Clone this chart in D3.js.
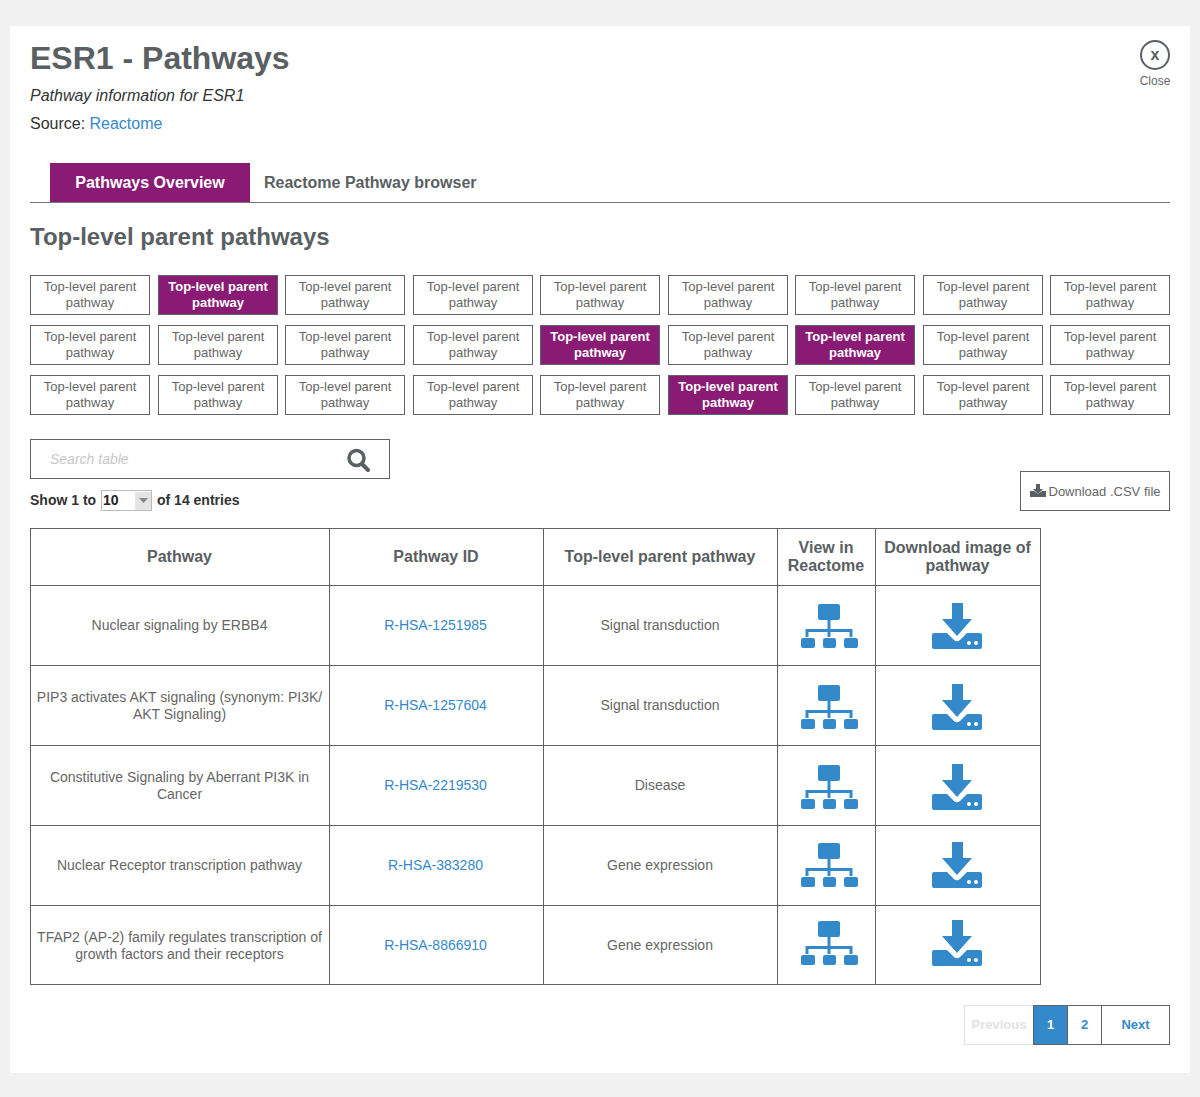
<!DOCTYPE html>
<html>
<head>
<meta charset="utf-8">
<script src="https://cdn.jsdelivr.net/npm/d3@7"></script>
<style>
  html, body { margin: 0; padding: 0; background: #f1f1f1; }
  svg { display: block; }
  text { font-family: "Liberation Sans", Arial, sans-serif; }
</style>
</head>
<body>
<div id="graf"></div>
<script>
// values
const tileLabel = ["Top-level parent", "pathway"]
const tileCols = d3.range(9)
const tileRows = d3.range(3)
const tileActive = ["0-1", "1-4", "1-6", "2-5"]

const headerLines = [["Pathway"], ["Pathway ID"], ["Top-level parent pathway"], ["View in", "Reactome"], ["Download image of", "pathway"]]
const pathways = [
  ["Nuclear signaling by ERBB4"],
  ["PIP3 activates AKT signaling (synonym: PI3K/", "AKT Signaling)"],
  ["Constitutive Signaling by Aberrant PI3K in", "Cancer"],
  ["Nuclear Receptor transcription pathway"],
  ["TFAP2 (AP-2) family regulates transcription of", "growth factors and their receptors"]
]
const pathwayIds = ["R-HSA-1251985", "R-HSA-1257604", "R-HSA-2219530", "R-HSA-383280", "R-HSA-8866910"]
const parents = ["Signal transduction", "Signal transduction", "Disease", "Gene expression", "Gene expression"]
const pageLabels = ["Previous", "1", "2", "Next"]

// layout
const width = 1200, height = 1097
const purple = "#8a1b74", blue = "#3489ca", ink = "#5a6062", line = "#5f6365"

const svg = d3.select("#graf").append("svg")
    .attr("width", width).attr("height", height)
    .attr("viewBox", [0, 0, width, height])

const label = (g, str, x, y, size, fill, opts = {}) => g.append("text")
    .attr("x", x).attr("y", y)
    .attr("font-size", size)
    .attr("fill", fill)
    .attr("font-weight", opts.weight || "normal")
    .attr("font-style", opts.style || "normal")
    .attr("text-anchor", opts.anchor || "start")
    .text(str)

svg.append("rect").attr("x", 10).attr("y", 26).attr("width", 1180).attr("height", 1047).attr("fill", "#fff")

// header
label(svg, "ESR1 - Pathways", 30, 69, 32, ink, {weight: "bold"})
label(svg, "Pathway information for ESR1", 30, 101, 16, "#333", {style: "italic"})
label(svg, "Source:", 30, 129, 16, "#333")
label(svg, "Reactome", 89.5, 129, 16, blue)

svg.append("circle").attr("cx", 1155).attr("cy", 55).attr("r", 14).attr("fill", "none").attr("stroke", ink).attr("stroke-width", 2)
label(svg, "x", 1155, 60, 16, ink, {weight: "bold", anchor: "middle"})
label(svg, "Close", 1155, 85, 12, "#666", {anchor: "middle"})

// tabs
svg.append("rect").attr("x", 50).attr("y", 163).attr("width", 200).attr("height", 39).attr("fill", purple)
svg.append("line").attr("x1", 30).attr("x2", 1170).attr("y1", 202.5).attr("y2", 202.5).attr("stroke", "#777")
label(svg, "Pathways Overview", 150, 188, 16, "#fff", {weight: "bold", anchor: "middle"})
label(svg, "Reactome Pathway browser", 264, 188, 16, ink, {weight: "bold"})

label(svg, "Top-level parent pathways", 30, 245, 24, ink, {weight: "bold"})

// tile grid
const tileX = d3.scaleLinear().domain([0, 8]).range([30, 1050])
const tileY = d3.scaleLinear().domain([0, 2]).range([275, 375])
const tileW = 120, tileH = 40
const isActive = ([r, c]) => tileActive.includes(`${r}-${c}`)

const tiles = svg.append("g").selectAll("g")
  .data(d3.cross(tileRows, tileCols))
  .join("g")
    .attr("transform", ([r, c]) => `translate(${Math.round(tileX(c))},${tileY(r)})`)

tiles.append("rect")
    .attr("x", 0.5).attr("y", 0.5)
    .attr("width", tileW - 1).attr("height", tileH - 1)
    .attr("fill", d => isActive(d) ? purple : "#fff")
    .attr("stroke", line)

tileLabel.forEach((t, i) => {
  tiles.append("text")
      .attr("x", tileW / 2)
      .attr("y", 15.6 + i * 16)
      .attr("text-anchor", "middle")
      .attr("font-size", 13)
      .attr("font-weight", d => isActive(d) ? "bold" : "normal")
      .attr("fill", d => isActive(d) ? "#fff" : "#666")
      .text(t)
})

// search box
svg.append("rect").attr("x", 30.5).attr("y", 439.5).attr("width", 359).attr("height", 39).attr("fill", "#fff").attr("stroke", line)
label(svg, "Search table", 50, 464, 14, "#c8c8c8", {style: "italic"})
svg.append("circle").attr("cx", 356.5).attr("cy", 458).attr("r", 7.5).attr("fill", "none").attr("stroke", ink).attr("stroke-width", 3.5)
svg.append("line").attr("x1", 362).attr("y1", 464).attr("x2", 368).attr("y2", 470).attr("stroke", ink).attr("stroke-width", 4).attr("stroke-linecap", "round")

// entries select
label(svg, "Show 1 to", 30, 505, 14, "#333", {weight: "bold"})
svg.append("rect").attr("x", 101.5).attr("y", 490.5).attr("width", 50).attr("height", 20).attr("fill", "#fff").attr("stroke", "#bbb")
svg.append("rect").attr("x", 135).attr("y", 492).attr("width", 16).attr("height", 18).attr("fill", "#e4e4e4")
svg.append("path").attr("d", "M139 498h9l-4.5 5z").attr("fill", "#888")
label(svg, "10", 103, 505, 14, "#222", {weight: "bold"})
label(svg, "of 14 entries", 157, 505, 14, "#333", {weight: "bold"})

// download button
svg.append("rect").attr("x", 1020.5).attr("y", 471.5).attr("width", 149).attr("height", 39).attr("fill", "#fff").attr("stroke", line)
const smallIcon = svg.append("g").attr("transform", "translate(1038,494)").attr("fill", ink)
smallIcon.append("path").attr("d", "M-8 -3h4l4 3 4 -3h4v6h-16z")
smallIcon.append("path").attr("d", "M-2 -10h4v5h3l-5 5 -5 -5h3z")
label(svg, "Download .CSV file", 1048.5, 496, 13, "#666")

// table
const colEdges = [30, 329, 543, 777, 875, 1040]
const colCentre = i => (colEdges[i] + colEdges[i + 1]) / 2
const rowEdges = [528, 585, 665, 745, 825, 905, 984]
const iconNudge = [0, 1, 1, -1, -3]

const table = svg.append("g").attr("stroke", line).attr("shape-rendering", "crispEdges")
table.selectAll("line.h").data(rowEdges).join("line").attr("class", "h")
    .attr("x1", colEdges[0]).attr("x2", colEdges[5] + 1)
    .attr("y1", d => d + 0.5).attr("y2", d => d + 0.5)
table.selectAll("line.v").data(colEdges).join("line").attr("class", "v")
    .attr("y1", rowEdges[0]).attr("y2", rowEdges[6] + 1)
    .attr("x1", d => d + 0.5).attr("x2", d => d + 0.5)

const multi = (g, lines, x, cy, size, lh, fill, opts) => {
  lines.forEach((t, i) => {
    label(g, t, x, cy + (i - (lines.length - 1) / 2) * lh + size * 0.36, size, fill, opts)
  })
}

headerLines.forEach((lines, i) => {
  multi(svg, lines, colCentre(i), 556, 16, 18, ink, {weight: "bold", anchor: "middle"})
})

const sitemap = "M2 0h18a2 2 0 0 1 2 2v12a2 2 0 0 1 -2 2h-18a2 2 0 0 1 -2 -2v-12a2 2 0 0 1 2 -2z"
  + "M9.5 16h3v9h22v8h-3v-5h-19v5h-3v-5h-19v5h-3v-8h22z"
  + "M-15 34h10a2 2 0 0 1 2 2v6a2 2 0 0 1 -2 2h-10a2 2 0 0 1 -2 -2v-6a2 2 0 0 1 2 -2z"
  + "M7 34h9a2 2 0 0 1 2 2v6a2 2 0 0 1 -2 2h-9a2 2 0 0 1 -2 -2v-6a2 2 0 0 1 2 -2z"
  + "M28 34h10a2 2 0 0 1 2 2v6a2 2 0 0 1 -2 2h-10a2 2 0 0 1 -2 -2v-6a2 2 0 0 1 2 -2z"
const arrow = "M10 0h11v16h9l-15 17 -15 -17h10z"
const tray = "M-8 30h13l7 7a4 4 0 0 0 6 0l7 -7h13a2 2 0 0 1 2 2v12a2 2 0 0 1 -2 2h-46a2 2 0 0 1 -2 -2v-12a2 2 0 0 1 2 -2z"

pathways.forEach((lines, r) => {
  const cy = (rowEdges[r + 1] + rowEdges[r + 2]) / 2
  multi(svg, lines, colCentre(0), cy + (r === 4 ? 1 : 0), 14, 17, "#666", {anchor: "middle"})
  multi(svg, [pathwayIds[r]], colCentre(1) - 0.5, cy, 14, 17, blue, {anchor: "middle"})
  multi(svg, [parents[r]], colCentre(2), cy, 14, 17, "#666", {anchor: "middle"})
  const top = rowEdges[r + 1] + 19 + iconNudge[r]
  svg.append("path").attr("transform", `translate(818,${top})`).attr("d", sitemap).attr("fill", blue)
  const dl = svg.append("g").attr("transform", `translate(942,${top - 1})`).attr("fill", blue)
  dl.append("path").attr("d", tray)
  dl.append("path").attr("d", arrow)
  dl.append("circle").attr("cx", 27).attr("cy", 40).attr("r", 2).attr("fill", "#fff")
  dl.append("circle").attr("cx", 34).attr("cy", 40).attr("r", 2).attr("fill", "#fff")
})

// pagination
const pageEdges = [964, 1033, 1067, 1101, 1169]
svg.append("rect").attr("x", 964.5).attr("y", 1005.5).attr("width", 69).attr("height", 39).attr("fill", "#fff").attr("stroke", "#e2e2e2")
svg.append("rect").attr("x", 1033.5).attr("y", 1005.5).attr("width", 136).attr("height", 39).attr("fill", "#fff").attr("stroke", line)
svg.append("rect").attr("x", 1033.5).attr("y", 1005.5).attr("width", 34).attr("height", 39).attr("fill", blue).attr("stroke", line)
svg.append("line").attr("x1", 1101.5).attr("x2", 1101.5).attr("y1", 1005).attr("y2", 1045).attr("stroke", line)
pageLabels.forEach((t, i) => {
  const fill = i === 0 ? "#e2e2e2" : i === 1 ? "#fff" : blue
  label(svg, t, (pageEdges[i] + pageEdges[i + 1]) / 2 + 0.5, 1029, 13, fill, {weight: "bold", anchor: "middle"})
})
</script>
</body>
</html>
